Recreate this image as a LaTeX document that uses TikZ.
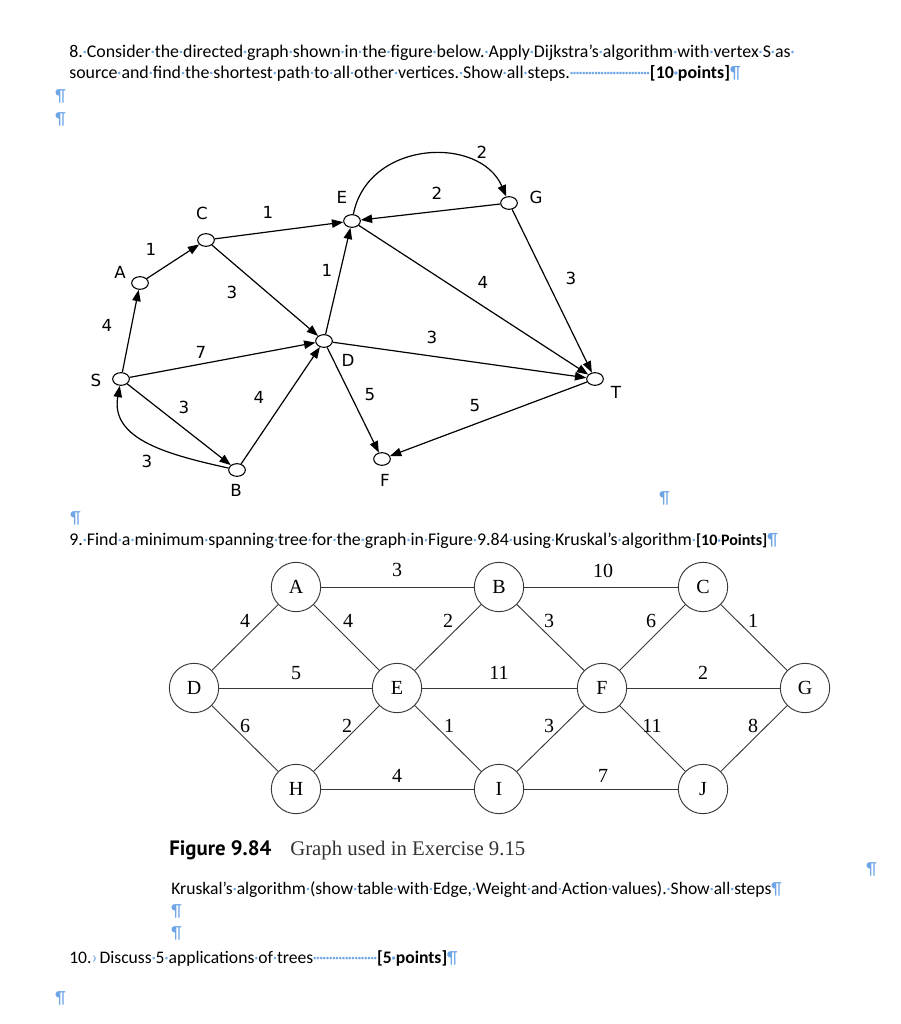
\documentclass[tikz,border=0pt]{standalone}
\usepackage{fontspec}
\setmainfont{Carlito}
\newfontfamily\vfont{DejaVu Sans}
\newfontfamily\tfont{Liberation Serif}
\newfontfamily\ffont{PT Sans}
\usetikzlibrary{arrows.meta,shapes.geometric}
\definecolor{mk}{RGB}{110,165,230}
\definecolor{gline}{RGB}{55,55,55}
\begin{document}
\catcode`\·=\active
\def·{\textcolor{mk}{\makebox[\fontdimen2\font]{\char"B7}}}
\newcommand\pil{\textcolor{mk}{\char"B6}}
\newcommand\lead[1]{\textcolor{mk}{\xleaders\hbox to 2.3pt{\hss\char"B7\hss}\hskip #1}}
\newcommand\tabmk{\textcolor{mk}{\makebox[6pt][l]{\char"203A}}}
\begin{tikzpicture}[x=0.75pt,y=-0.75pt,
  txt/.style={anchor=base west,inner sep=0pt,font=\fontsize{13.2}{16}\selectfont},
  txtb/.style={anchor=base west,inner sep=0pt,font=\fontsize{13.4}{16}\selectfont},
  vtx/.style={ellipse,draw,line width=0.8pt,minimum width=12.5pt,minimum height=9.5pt,inner sep=0pt,fill=white},
  vlab/.style={inner sep=0pt,font=\vfont\fontsize{12.5}{14}\selectfont},
  darr/.style={line width=0.9pt,-{Triangle[length=8.5pt,width=6.3pt]}},
  cir/.style={circle,draw=gline,line width=0.7pt,minimum size=37pt,inner sep=0pt,font=\tfont\fontsize{15}{17}\selectfont},
  uedge/.style={draw=gline,line width=0.7pt},
  wlab/.style={inner sep=0pt,font=\tfont\fontsize{15}{17}\selectfont},
]
\useasboundingbox (0,0) rectangle (900,1024);

% ---------- text ----------
\node[txtb] (t1) at (69,58) {8.·Consider·the·directed·graph·shown·in·the·figure·below.·Apply·Dijkstra’s·algorithm·with·vertex·S·as·};
\node[txtb] (t2) at (69,79) {source·and·find·the·shortest·path·to·all·other·vertices.·Show·all·steps.\lead{60pt}\textbf{[10·points]}\pil};
\node[txt] (p1) at (55,102) {\pil};
\node[txt] (p2) at (55,124) {\pil};

% ---------- graph 1 ----------
\node[vtx] (S) at (121,379) {};
\node[vtx] (A) at (140,283) {};
\node[vtx] (C) at (206,240) {};
\node[vtx] (E) at (352,221) {};
\node[vtx] (G) at (509,203) {};
\node[vtx] (D) at (324,341) {};
\node[vtx] (T) at (595,379) {};
\node[vtx] (B) at (237,470) {};
\node[vtx] (F) at (382,459) {};

\draw[darr] (S) -- (A);
\draw[darr] (A) -- (C);
\draw[darr] (C) -- (E);
\draw[darr] (C) -- (D);
\draw[darr] (D) -- (E);
\draw[darr] (G) -- (E);
\draw[darr] (E) .. controls (368,140) and (480,135) .. (G);
\draw[darr] (E) -- (T);
\draw[darr] (G) -- (T);
\draw[darr] (D) -- (T);
\draw[darr] (S) -- (D);
\draw[darr] (S) -- (B);
\draw[darr] (B) .. controls (170,455) and (110,440) .. (S);
\draw[darr] (B) -- (D);
\draw[darr] (D) -- (F);
\draw[darr] (T) -- (F);

\node[vlab] (lS) at (96,380) {S};
\node[vlab] (lA) at (120,272) {A};
\node[vlab] (lC) at (202,213) {C};
\node[vlab] (lE) at (342,197) {E};
\node[vlab] (lG) at (536,197) {G};
\node[vlab] (lD) at (348,360) {D};
\node[vlab] (lT) at (616,392) {T};
\node[vlab] (lB) at (236,490) {B};
\node[vlab] (lF) at (385,480) {F};

\node[vlab] (wAC) at (151,249) {1};
\node[vlab] (wCE) at (268,212) {1};
\node[vlab] (wCD) at (232,292) {3};
\node[vlab] (wDE) at (327,270) {1};
\node[vlab] (wEG) at (482,152) {2};
\node[vlab] (wGE) at (437,193) {2};
\node[vlab] (wET) at (483,282) {4};
\node[vlab] (wGT) at (571,278) {3};
\node[vlab] (wDT) at (432,337) {3};
\node[vlab] (wSA) at (107,325) {4};
\node[vlab] (wSD) at (201,352) {7};
\node[vlab] (wSB) at (184,407) {3};
\node[vlab] (wBD) at (259,397) {4};
\node[vlab] (wBS) at (147,461) {3};
\node[vlab] (wDF) at (370,395) {5};
\node[vlab] (wTF) at (475,406) {5};

\node[txt] (p3) at (659,503) {\pil};
\node[txt] (p4) at (70,523) {\pil};
\node[txtb] (t3) at (69,545) {9.·Find·a·minimum·spanning·tree·for·the·graph·in·Figure·9.84·using·Kruskal’s·algorithm·{\fontsize{12}{14}\selectfont\bfseries[10·Points]}\pil};

% ---------- graph 2 ----------
\node[cir] (nA) at (296,587) {A};
\node[cir] (nB) at (499,587) {B};
\node[cir] (nC) at (703,587) {C};
\node[cir] (nD) at (194,688) {D};
\node[cir] (nE) at (397,688) {E};
\node[cir] (nF) at (602,688) {F};
\node[cir] (nG) at (805,688) {G};
\node[cir] (nH) at (296,789) {H};
\node[cir] (nI) at (499,789) {I};
\node[cir] (nJ) at (703,789) {J};

\path[uedge] (nA) -- (nB);
\path[uedge] (nB) -- (nC);
\path[uedge] (nD) -- (nA);
\path[uedge] (nA) -- (nE);
\path[uedge] (nE) -- (nB);
\path[uedge] (nB) -- (nF);
\path[uedge] (nF) -- (nC);
\path[uedge] (nC) -- (nG);
\path[uedge] (nD) -- (nE);
\path[uedge] (nE) -- (nF);
\path[uedge] (nF) -- (nG);
\path[uedge] (nD) -- (nH);
\path[uedge] (nH) -- (nE);
\path[uedge] (nE) -- (nI);
\path[uedge] (nI) -- (nF);
\path[uedge] (nF) -- (nJ);
\path[uedge] (nJ) -- (nG);
\path[uedge] (nH) -- (nI);
\path[uedge] (nI) -- (nJ);

\node[wlab] (xAB) at (397,570) {3};
\node[wlab] (xBC) at (603,571) {10};
\node[wlab] (xDA) at (245,621) {4};
\node[wlab] (xAE) at (348,621) {4};
\node[wlab] (xEB) at (448,621) {2};
\node[wlab] (xBF) at (549,621) {3};
\node[wlab] (xFC) at (651,621) {6};
\node[wlab] (xCG) at (753,621) {1};
\node[wlab] (xDE) at (296,673) {5};
\node[wlab] (xEF) at (499,673) {11};
\node[wlab] (xFG) at (703,673) {2};
\node[wlab] (xDH) at (245,726) {6};
\node[wlab] (xHE) at (347,726) {2};
\node[wlab] (xEI) at (449,726) {1};
\node[wlab] (xIF) at (549,726) {3};
\node[wlab] (xFJ) at (652,726) {11};
\node[wlab] (xJG) at (753,726) {8};
\node[wlab] (xHI) at (397,776) {4};
\node[wlab] (xIJ) at (603,776) {7};

\node[anchor=base west,inner sep=0pt,font=\ffont\bfseries\fontsize{15.6}{17}\selectfont] (cap1) at (169,855) {Figure 9.84};
\node[anchor=base west,inner sep=0pt,font=\tfont\fontsize{15.6}{17}\selectfont,text=black!80] (cap2) at (290,855) {Graph used in Exercise 9.15};

% ---------- lower text ----------
\node[txt] (p5) at (866,874) {\pil};
\node[txt] (t4) at (171,894) {Kruskal’s·algorithm·(show·table·with·Edge,·Weight·and·Action·values).·Show·all·steps\pil};
\node[txt] (p6) at (171,916) {\pil};
\node[txt] (p7) at (171,938) {\pil};
\node[txt] (t5) at (69,963) {10.\tabmk Discuss·5·applications·of·trees\lead{48pt}\textbf{[5·points]}\pil};
\node[txt] (p8) at (55,1003) {\pil};
\end{tikzpicture}
\end{document}
